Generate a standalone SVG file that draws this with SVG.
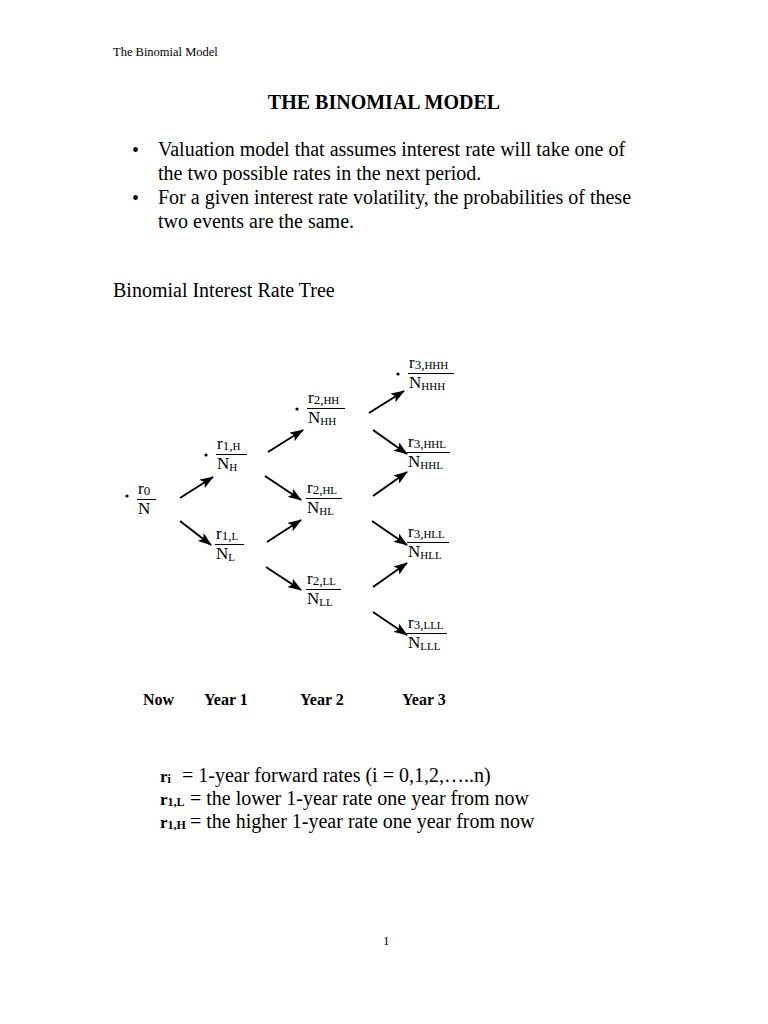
<svg xmlns="http://www.w3.org/2000/svg" width="768" height="1024" viewBox="0 0 768 1024">
<style>
.t{font-family:"Liberation Serif","Times New Roman",serif;fill:#000}
.body{font-size:20px}
.b{font-weight:bold}
.m{font-family:"Liberation Serif","Times New Roman",serif;font-size:17px;fill:#000}
.s{font-size:11px}
.sm{font-size:13px}
.fl{stroke:#000;stroke-width:1}
.ar{stroke:#000;stroke-width:2;fill:none;marker-end:url(#ah)}
.dm{font-family:"Liberation Serif","Times New Roman",serif;font-size:17px;font-weight:bold;fill:#000}
</style>
<defs>
<marker id="ah" markerUnits="userSpaceOnUse" markerWidth="14" markerHeight="10" refX="13" refY="5" orient="auto">
<path d="M0,0 L14,5 L0,10 L3,5 z" fill="#000"/>
</marker>
</defs>
<rect width="768" height="1024" fill="#fff"/>
<text class="t" x="113" y="56" font-size="12.5">The Binomial Model</text>
<text class="t b body" x="384" y="109" text-anchor="middle">THE BINOMIAL MODEL</text>
<text class="t body" x="132" y="157" font-size="24">•</text>
<text class="t body" x="158" y="156">Valuation model that assumes interest rate will take one of</text>
<text class="t body" x="158" y="180">the two possible rates in the next period.</text>
<text class="t body" x="132" y="205" font-size="24">•</text>
<text class="t body" x="158" y="204">For a given interest rate volatility, the probabilities of these</text>
<text class="t body" x="158" y="228">two events are the same.</text>
<text class="t body" x="113" y="297">Binomial Interest Rate Tree</text>

<g id="connectors">
<line class="ar" x1="180" y1="498" x2="213" y2="477"/>
<line class="ar" x1="180" y1="521" x2="211" y2="545"/>
<line class="ar" x1="268" y1="452" x2="303" y2="430"/>
<line class="ar" x1="265" y1="476" x2="301" y2="500"/>
<line class="ar" x1="267" y1="542" x2="301" y2="520"/>
<line class="ar" x1="266" y1="567" x2="301" y2="590"/>
<line class="ar" x1="369" y1="413" x2="404" y2="391"/>
<line class="ar" x1="373" y1="430" x2="407" y2="454"/>
<line class="ar" x1="373" y1="496" x2="407" y2="472"/>
<line class="ar" x1="372" y1="521" x2="407" y2="545"/>
<line class="ar" x1="373" y1="587" x2="407" y2="563"/>
<line class="ar" x1="373" y1="612" x2="407" y2="635"/>
</g>

<g id="r0">
<circle cx="127" cy="496" r="1.6" fill="#000"/>
<text class="m" x="138" y="494">r<tspan class="sm" dy="1">0</tspan></text>
<line class="fl" x1="137" y1="499.5" x2="156" y2="499.5"/>
<text class="m" x="138" y="514">N</text>
</g>
<g id="r1H">
<circle cx="206" cy="455" r="1.6" fill="#000"/>
<text class="m" x="217" y="449">r<tspan class="sm" dy="1">1,</tspan><tspan class="s">H</tspan></text>
<line class="fl" x1="216" y1="454.5" x2="247" y2="454.5"/>
<text class="m" x="217" y="469">N<tspan class="s" dy="2">H</tspan></text>
</g>
<g id="r1L">
<text class="m" x="216" y="539">r<tspan class="sm" dy="1">1,</tspan><tspan class="s">L</tspan></text>
<line class="fl" x1="215" y1="544.5" x2="244" y2="544.5"/>
<text class="m" x="216" y="559">N<tspan class="s" dy="2">L</tspan></text>
</g>
<g id="r2HH">
<circle cx="297" cy="409" r="1.6" fill="#000"/>
<text class="m" x="308" y="403">r<tspan class="sm" dy="1">2,</tspan><tspan class="s">HH</tspan></text>
<line class="fl" x1="307" y1="408.5" x2="345" y2="408.5"/>
<text class="m" x="308" y="423">N<tspan class="s" dy="2">HH</tspan></text>
</g>
<g id="r2HL">
<text class="m" x="307" y="493">r<tspan class="sm" dy="1">2,</tspan><tspan class="s">HL</tspan></text>
<line class="fl" x1="306" y1="498.5" x2="342" y2="498.5"/>
<text class="m" x="307" y="513">N<tspan class="s" dy="2">HL</tspan></text>
</g>
<g id="r2LL">
<text class="m" x="307" y="584">r<tspan class="sm" dy="1">2,</tspan><tspan class="s">LL</tspan></text>
<line class="fl" x1="306" y1="589.5" x2="341" y2="589.5"/>
<text class="m" x="307" y="604">N<tspan class="s" dy="2">LL</tspan></text>
</g>
<g id="r3HHH">
<circle cx="398" cy="374" r="1.6" fill="#000"/>
<text class="m" x="409" y="368">r<tspan class="sm" dy="1">3,</tspan><tspan class="s">HHH</tspan></text>
<line class="fl" x1="408" y1="373.5" x2="454" y2="373.5"/>
<text class="m" x="409" y="388">N<tspan class="s" dy="2">HHH</tspan></text>
</g>
<g id="r3HHL">
<text class="m" x="408" y="447">r<tspan class="sm" dy="1">3,</tspan><tspan class="s">HHL</tspan></text>
<line class="fl" x1="407" y1="452.5" x2="450" y2="452.5"/>
<text class="m" x="408" y="467">N<tspan class="s" dy="2">HHL</tspan></text>
</g>
<g id="r3HLL">
<text class="m" x="408" y="537">r<tspan class="sm" dy="1">3,</tspan><tspan class="s">HLL</tspan></text>
<line class="fl" x1="407" y1="542.5" x2="449" y2="542.5"/>
<text class="m" x="408" y="557">N<tspan class="s" dy="2">HLL</tspan></text>
</g>
<g id="r3LLL">
<text class="m" x="408" y="628">r<tspan class="sm" dy="1">3,</tspan><tspan class="s">LLL</tspan></text>
<line class="fl" x1="407" y1="633.5" x2="447" y2="633.5"/>
<text class="m" x="408" y="648">N<tspan class="s" dy="2">LLL</tspan></text>
</g>

<g id="axis">
<text class="t b" font-size="16" x="143" y="705">Now</text>
<text class="t b" font-size="16" x="204" y="705">Year 1</text>
<text class="t b" font-size="16" x="300" y="705">Year 2</text>
<text class="t b" font-size="16" x="402" y="705">Year 3</text>
</g>

<g id="definitions">
<text class="dm" x="160" y="782">r<tspan font-size="12" dy="1">i</tspan></text>
<text class="t body" x="182" y="782">= 1-year forward rates (i = 0,1,2,…..n)</text>
<text class="dm" x="160" y="805">r<tspan font-size="12" dy="1">1,L</tspan></text>
<text class="t body" x="190" y="805">= the lower 1-year rate one year from now</text>
<text class="dm" x="160" y="828">r<tspan font-size="12" dy="1">1,H</tspan></text>
<text class="t body" x="190" y="828">= the higher 1-year rate one year from now</text>
</g>
<text class="t" x="383" y="945" font-size="13">1</text>
</svg>
